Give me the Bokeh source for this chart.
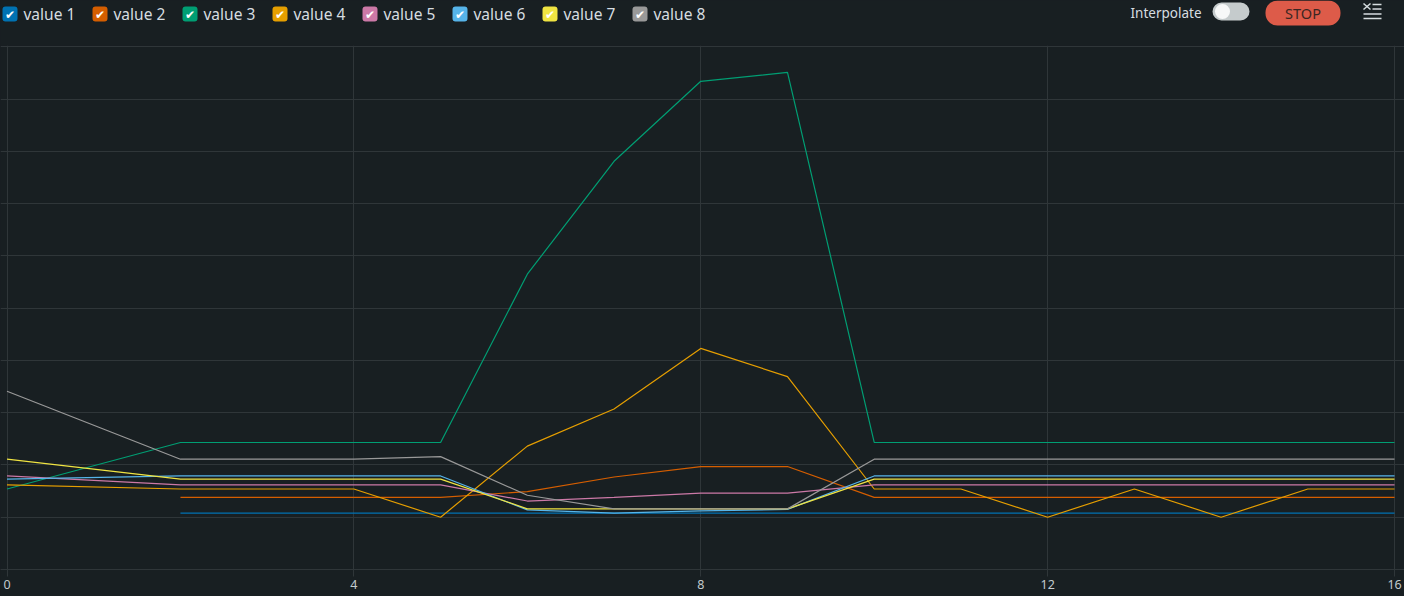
from bokeh.plotting import figure
from bokeh.layouts import column
from bokeh.models import Range1d, FixedTicker
from bokeh.core.properties import value
from bokeh.embed import file_html
from bokeh.resources import INLINE

NaN = float("nan")

# ---------------- data ----------------
x_values = [0, 2, 3, 4, 5, 6, 7, 8, 9, 10, 11, 12, 13, 14, 15, 16]
series_names = ["value 1", "value 2", "value 3", "value 4",
                "value 5", "value 6", "value 7", "value 8"]
series_colors = ["#0072B2", "#D55E00", "#009E73", "#E69F00",
                 "#CC79A7", "#56B4E9", "#F0E442", "#999999"]

value_1 = [NaN, 10.8, 10.8, 10.8, 10.8, 10.8, 10.8, 10.8, 10.8, 10.8, 10.8, 10.8, 10.8, 10.8, 10.8, 10.8]
value_2 = [NaN, 13.8, 13.8, 13.8, 13.8, 14.9, 17.7, 19.7, 19.7, 13.8, 13.8, 13.8, 13.8, 13.8, 13.8, 13.8]
value_3 = [15.4, 24.3, 24.3, 24.3, 24.3, 56.5, 78.1, 93.4, 95.1, 24.3, 24.3, 24.3, 24.3, 24.3, 24.3, 24.3]
value_4 = [16.2, 15.4, 15.4, 15.4, 10.0, 23.6, 30.7, 42.3, 36.9, 15.4, 15.4, 10.0, 15.4, 10.0, 15.4, 15.4]
value_5 = [17.9, 16.2, 16.2, 16.2, 16.2, 13.1, 13.8, 14.6, 14.6, 16.2, 16.2, 16.2, 16.2, 16.2, 16.2, 16.2]
value_6 = [17.3, 17.9, 17.9, 17.9, 17.9, 11.4, 10.8, 11.2, 11.5, 17.9, 17.9, 17.9, 17.9, 17.9, 17.9, 17.9]
value_7 = [21.1, 17.3, 17.3, 17.3, 17.3, 11.6, 11.6, 11.6, 11.6, 17.3, 17.3, 17.3, 17.3, 17.3, 17.3, 17.3]
value_8 = [34.1, 21.1, 21.1, 21.1, 21.6, 14.2, 11.6, 11.6, 11.6, 21.1, 21.1, 21.1, 21.1, 21.1, 21.1, 21.1]
all_series = [value_1, value_2, value_3, value_4, value_5, value_6, value_7, value_8]

x_ticks = [0, 4, 8, 12, 16]
y_grid_ticks = [0, 10, 20, 30, 40, 50, 60, 70, 80, 90, 100]

# ---------------- styles ----------------
BG = "#181f22"
GRID = "#2f3639"
TXT = "#d6dde0"
FONT = "Noto Sans"
W = 1404
HEADER_H = 45
CHART_H = 551

# ---------------- header (legend + controls) ----------------
h = figure(width=W, height=HEADER_H, x_range=Range1d(0, W), y_range=Range1d(HEADER_H, 0),
           output_backend="svg", toolbar_location=None,
           x_axis_location=None, y_axis_location=None,
           min_border=0, background_fill_color=BG, border_fill_color=BG,
           outline_line_color=None)
h.xgrid.visible = False
h.ygrid.visible = False

box_left = [2 + 90 * i for i in range(len(series_names))]
box_right = [b + 15 for b in box_left]
h.quad(left=box_left, right=box_right, top=[6] * 8, bottom=[21] * 8,
       fill_color=series_colors, line_color=None, border_radius=3)
h.text(x=[b + 7.5 for b in box_left], y=[14] * 8, text=["\u2714"] * 8,
       text_color="white", text_font=value("DejaVu Sans"), text_font_size="12px",
       text_align="center", text_baseline="middle")
h.text(x=[b + 21 for b in box_left], y=[13] * 8, text=series_names,
       text_color=TXT, text_font=value(FONT), text_font_size="15.5px",
       text_align="left", text_baseline="middle")

# Interpolate toggle
h.text(x=[1130], y=[12], text=["Interpolate"], text_color=TXT, text_font=value(FONT),
       text_font_size="13.5px", text_align="left", text_baseline="middle")
h.quad(left=[1212], right=[1249], top=[2], bottom=[20], fill_color="#c5cbcc",
       line_color=None, border_radius=9)
h.scatter(x=[1222], y=[11], size=15, marker="circle", fill_color="#f7f8f8", line_color=None)

# STOP button
h.quad(left=[1265], right=[1340], top=[0], bottom=[25], fill_color="#dd5b49",
       line_color=None, border_radius=12)
h.text(x=[1302.5], y=[12.5], text=["STOP"], text_color="#3a2622", text_font=value(FONT),
       text_font_size="14.5px", text_align="center", text_baseline="middle")

# menu icon
h.segment(x0=[1363, 1363, 1372, 1372, 1363, 1363], y0=[3, 9, 4, 8.5, 13.5, 18],
          x1=[1370, 1370, 1381, 1381, 1381, 1381], y1=[9, 3, 4, 8.5, 13.5, 18],
          line_color=TXT, line_width=1.5)

# ---------------- chart ----------------
p = figure(width=W, height=CHART_H, x_range=Range1d(-0.075, 16.115), y_range=Range1d(0, 100.25),
           output_backend="svg", toolbar_location=None, y_axis_location=None,
           min_border_left=0, min_border_right=0, min_border_top=0, min_border_bottom=27,
           background_fill_color=BG, border_fill_color=BG, outline_line_color=None)

for vals, col in zip(all_series, series_colors):
    p.line(x=x_values, y=vals, line_color=col, line_width=1.2)

p.xaxis.ticker = FixedTicker(ticks=x_ticks)
p.xaxis.axis_line_color = GRID
p.xaxis.major_tick_line_color = GRID
p.xaxis.major_tick_in = 0
p.xaxis.major_tick_out = 7
p.xaxis.minor_tick_line_color = None
p.xaxis.major_label_standoff = 3
p.xaxis.major_label_text_color = "#c3cbce"
p.xaxis.major_label_text_font = FONT
p.xaxis.major_label_text_font_size = "12.5px"

p.xgrid.ticker = FixedTicker(ticks=x_ticks)
p.ygrid.ticker = FixedTicker(ticks=y_grid_ticks)
p.xgrid.grid_line_color = GRID
p.ygrid.grid_line_color = GRID

layout = column(h, p, spacing=0, styles={"background-color": BG})

html = file_html(layout, INLINE, title="chart")
html = html.replace("<head>", "<head><style>html,body{background:#181f22;}</style>", 1)
open("out.html", "w").write(html)
